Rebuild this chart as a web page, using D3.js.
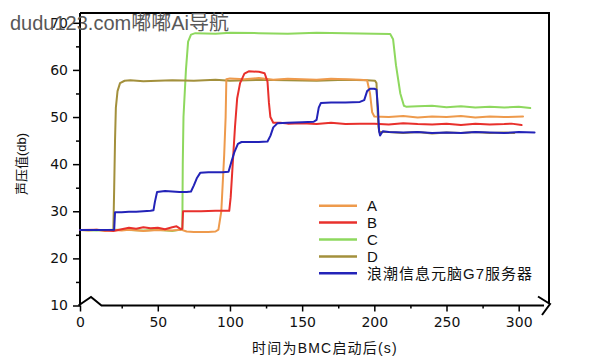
<!DOCTYPE html>
<html><head><meta charset="utf-8">
<script src="https://cdn.jsdelivr.net/npm/d3@7/dist/d3.min.js"></script>
<style>body{margin:0;background:#fff}</style>
</head><body><svg id="c" width="600" height="360"></svg>
<script>
// ---- data ----
const seriesNames = ["A", "B", "C", "D", "浪潮信息元脑G7服务器"];
const seriesColors = ["#ee9a4c", "#e8302c", "#8ed85e", "#a3903c", "#2323b8"];
const dataA = [[0,26.0],[5,25.9],[10,26.1],[15,25.8],[20,26.0],[25,25.9],[30,26.1],[40,25.8],[50,26.0],[60,25.9],[66,26.1],[70,25.7],[75,25.6],[80,25.6],[85,25.6],[90,25.7],[92,26.1],[94,30],[96,42],[97,50],[97.5,58.0],[100,58.2],[110,58.0],[120,58.3],[130,57.9],[140,58.1],[150,58.0],[160,57.9],[170,58.1],[180,58.0],[190,57.9],[195,57.8],[197,55],[198.5,51],[200,50.1],[210,50.0],[220,50.2],[230,49.9],[240,50.1],[250,50.0],[260,50.2],[270,49.9],[280,50.1],[290,50.0],[303,50.1]];
const dataB = [[0,26.0],[10,26.1],[20,25.8],[25,26.2],[30,26.5],[35,26.3],[40,26.6],[45,26.4],[50,26.5],[55,26.2],[60,26.6],[63,26.8],[66,26.2],[67,26.3],[67.5,30.0],[70,30.0],[80,30.0],[90,30.1],[99.5,30.1],[100.5,33],[101.5,38],[102.5,43],[103.5,48],[105,54],[107,57.2],[110,59.2],[113,59.7],[120,59.6],[124,59.3],[126,57.5],[127,53],[128,50],[130,48.8],[135,48.8],[140,48.6],[150,48.7],[160,48.5],[170,48.8],[180,48.5],[190,48.6],[200,48.6],[210,48.4],[220,48.7],[230,48.5],[240,48.4],[250,48.6],[260,48.3],[270,48.6],[280,48.4],[290,48.5],[295,48.6],[302,48.3]];
const dataC = [[0,26.0],[10,25.9],[20,26.1],[30,26.0],[40,25.9],[50,26.1],[60,25.8],[64,26.0],[67,26.2],[67.3,40],[67.8,50],[69.5,60],[71,66],[73,67.5],[76,67.8],[90,67.7],[100,67.9],[120,67.8],[140,67.7],[160,67.9],[180,67.8],[200,67.7],[211,67.6],[213,66.5],[215,61],[218,55],[220.5,52.4],[222,52.2],[230,52.3],[240,52.4],[250,52.1],[260,52.3],[270,52.0],[280,52.2],[290,52.0],[300,52.2],[308,51.9]];
const dataD = [[0,26.0],[10,26.0],[20,26.1],[20.5,35],[21,45],[21.5,52],[22.5,55.5],[24,57.2],[27,57.7],[31,57.8],[40,57.6],[50,57.7],[60,57.8],[75,57.7],[90,57.9],[100,57.7],[120,57.9],[140,57.8],[160,57.7],[180,57.9],[195,57.8],[200.5,57.7],[201.5,57.2],[202,53],[202.8,48],[203.5,46.8],[210,46.8],[220,46.6],[230,46.8],[240,46.5],[250,46.7],[260,46.6],[270,46.8],[280,46.6],[290,46.7],[297,46.6]];
const dataE = [[0,26.0],[10,26.0],[20.5,26.1],[21,29.8],[25,29.8],[30,29.9],[35,29.9],[40,30.0],[45,30.1],[47,30.2],[48,32],[49.5,34.1],[55,34.3],[60,34.2],[65,34.1],[70,34.1],[73,34.2],[75,35.5],[77,37],[79.5,38.2],[85,38.3],[90,38.3],[95,38.3],[99,38.4],[101,40.5],[103,42.5],[105.5,44.3],[108,44.7],[115,44.7],[120,44.7],[126,44.8],[128,46],[130,47.8],[133,48.7],[140,48.8],[150,48.9],[158,49.0],[160,49.4],[161.5,52],[163,53.0],[170,53.1],[180,53.1],[190,53.2],[193,53.6],[195,55.5],[197,56.0],[200,56.0],[201.5,55.8],[202.5,52],[203.3,47],[204,46.1],[205,46.6],[206,47.0],[210,46.8],[220,46.7],[230,46.8],[240,46.6],[250,46.7],[260,46.6],[270,46.8],[280,46.7],[290,46.6],[300,46.8],[311,46.7]];
const seriesData = [dataA, dataB, dataC, dataD, dataE];
const drawOrder = [2, 3, 0, 1, 4];
const xTicks = [0, 50, 100, 150, 200, 250, 300];
const xMinorTicks = [25, 75, 125, 175, 225, 275];
const yTicks = [10, 20, 30, 40, 50, 60, 70];
const yMinorTicks = [15, 25, 35, 45, 55, 65];
const xTitle = "时间为BMC启动后(s)";
const yTitle = "声压值(db)";
const watermark = "dudu123.com嘟嘟Ai导航";

// ---- chart ----
const svg = d3.select("#c");
const x = d3.scaleLinear().domain([0, 25, 321]).range([80, 121.7, 549]);
const y = d3.scaleLinear().domain([10, 70]).range([305.5, 22.8]);
const yTop = y(72.08), yBot = y(10), xL = x(0), xR = x(321);
const tickFont = "'DejaVu Sans', sans-serif";
const cjkFont = "'Liberation Sans','Noto Sans CJK SC', sans-serif";

function styleAxis(g, size) {
  g.select(".domain").remove();
  g.selectAll(".tick line").attr("stroke", "#000").attr("stroke-width", 1.5);
  g.selectAll(".tick text").attr("font-family", tickFont).attr("font-size", size).attr("fill", "#111");
}
// y axis
const gy = svg.append("g").attr("transform", `translate(${xL},0)`)
  .call(d3.axisLeft(y).tickValues(yTicks).tickSize(7).tickPadding(5).tickFormat(d3.format("d")));
styleAxis(gy, 14);
const gym = svg.append("g").attr("transform", `translate(${xL},0)`)
  .call(d3.axisLeft(y).tickValues(yMinorTicks).tickSize(4).tickFormat(""));
styleAxis(gym, 14);
// x axis
const gx = svg.append("g").attr("transform", `translate(0,${yBot})`)
  .call(d3.axisBottom(x).tickValues(xTicks).tickSize(6).tickPadding(6).tickFormat(d3.format("d")));
styleAxis(gx, 14);
const gxm = svg.append("g").attr("transform", `translate(0,${yBot})`)
  .call(d3.axisBottom(x).tickValues(xMinorTicks).tickSize(3).tickFormat(""));
styleAxis(gxm, 14);

// frame / axis lines with break and arrow
const frame = svg.append("g").attr("fill", "none").attr("stroke", "#000").attr("stroke-width", 2).attr("stroke-linejoin", "miter");
frame.append("path").attr("d", `M${xL},${yTop}V${yBot}`);
frame.append("path").attr("d", `M${xL},${yTop}H${xR}V${yBot - 2}`);
frame.append("path").attr("d", `M${xL - 1.5},${yBot}L${xL + 11},${yBot - 8.5}L${xL + 21.5},${yBot}H${xR - 5}`);
frame.append("path").attr("d", `M${xR - 11},${yBot - 9}L${xR + 1},${yBot - 1.5}L${xR - 7},${yBot + 9.5}`);

// lines
const line = d3.line().x(d => x(d[0])).y(d => y(d[1]));
drawOrder.forEach(i => {
  svg.append("path").datum(seriesData[i]).attr("d", line)
    .attr("fill", "none").attr("stroke", seriesColors[i]).attr("stroke-width", 2)
    .attr("stroke-linejoin", "round").attr("stroke-linecap", "round");
});

// legend
const leg = svg.append("g");
seriesNames.forEach((n, i) => {
  const yy = 205.7 + i * 16.9;
  leg.append("line").attr("x1", 319).attr("x2", 357).attr("y1", yy).attr("y2", yy)
    .attr("stroke", seriesColors[i]).attr("stroke-width", 2.5);
  leg.append("text").attr("x", 367).attr("y", yy).attr("dy", "0.36em")
    .attr("font-family", cjkFont).attr("font-size", 15).attr("letter-spacing", 1).attr("fill", "#111").text(n);
});

// titles
svg.append("text").attr("x", 325).attr("y", 353).attr("text-anchor", "middle")
  .attr("font-family", cjkFont).attr("font-size", 14).attr("letter-spacing", 1.2).attr("fill", "#111").text(xTitle);
svg.append("text").attr("transform", "translate(26,164) rotate(-90)").attr("text-anchor", "middle")
  .attr("font-family", cjkFont).attr("font-size", 13).attr("fill", "#111").text(yTitle);

// watermark
svg.append("text").attr("x", 10).attr("y", 30)
  .attr("font-family", cjkFont).attr("font-size", 20).attr("fill", "#585858").text(watermark);
</script></body></html>
